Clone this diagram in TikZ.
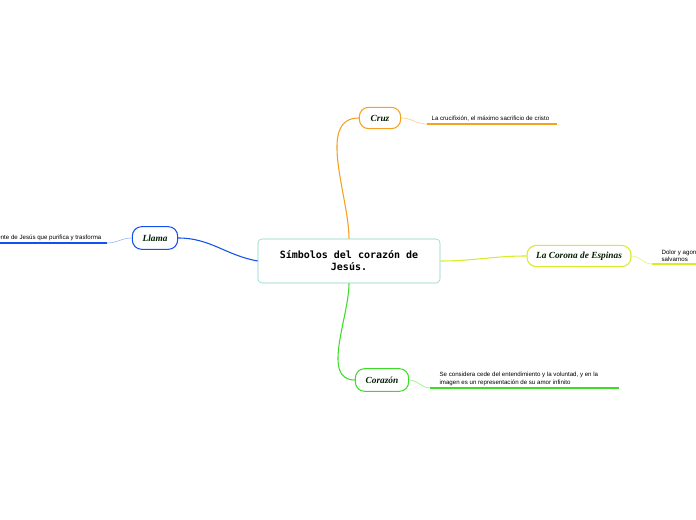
\documentclass[tikz,border=0pt]{standalone}
\usepackage{fontspec}
\setmainfont{Liberation Sans}
\newfontfamily\monof{DejaVu Sans Mono}
\newfontfamily\scr{Liberation Serif}
\definecolor{gr}{RGB}{60,220,40}
\definecolor{yl}{RGB}{215,235,40}
\definecolor{og}{RGB}{245,160,30}
\definecolor{bl}{RGB}{20,80,240}
\begin{document}
\begin{tikzpicture}[x=0.75pt,y=-0.75pt,
 topic/.style={draw=#1,line width=0.8pt,rounded corners=7pt,fill=white,font=\scr\itshape\bfseries\fontsize{7}{8}\selectfont,text=black!70!green!40!black},
 leaf/.style={font=\fontsize{4.6}{5.5}\selectfont,align=left,anchor=south west,inner sep=1pt}]
\useasboundingbox (0,0) rectangle (696,520);
\node[draw=cyan!50!green!50,rounded corners=3pt,minimum width=136.5pt,minimum height=33pt,font=\monof\bfseries\fontsize{7.5}{9}\selectfont,align=center] (c) at (349,261) {Símbolos del corazón de\\Jesús.};
\node[topic=og,minimum width=31pt,minimum height=16pt] (cruz) at (380,118) {Cruz};
\node[topic=yl,minimum width=78pt,minimum height=16pt] (cor) at (579,256) {La Corona de Espinas};
\node[topic=gr,minimum width=40pt,minimum height=17pt] (coz) at (382,380) {Corazón};
\node[topic=bl,minimum width=34pt,minimum height=17pt] (ll) at (155,238) {Llama};
\coordinate (a1) at (427,124); \coordinate (a2) at (557,124);
\draw[og,line width=1pt] (a1)--(a2);
\node[leaf] at (430,123) {La crucifixión, el máximo sacrificio de cristo};
\draw[og,line width=0.8pt] (c.north) to[out=90,in=180,looseness=0.9] (cruz.west);
\draw[og!50,line width=0.5pt] (cruz.east) to[out=0,in=180] (a1);
\coordinate (b1) at (652,264); \coordinate (b2) at (696,264);
\draw[yl,line width=1pt] (b1)--(b2);
\node[leaf] at (660,263) {Dolor y agonía de Jesús por\\salvarnos};
\draw[yl,line width=0.8pt] (c.east) to[out=0,in=180] (cor.west);
\draw[yl!60,line width=0.5pt] (cor.east) to[out=0,in=180] (b1);
\coordinate (d1) at (430,388); \coordinate (d2) at (619,388);
\draw[gr,line width=1pt] (d1)--(d2);
\node[leaf] at (438,387) {Se considera cede del entendimiento y la voluntad, y en la\\imagen es un representación de su amor infinito};
\draw[gr,line width=0.8pt] (c.south) to[out=-90,in=180,looseness=0.9] (coz.west);
\draw[gr!50,line width=0.5pt] (coz.east) to[out=0,in=180] (d1);
\coordinate (e1) at (107,243); \coordinate (e2) at (0,243);
\draw[bl,line width=1pt] (e1)--(e2);
\node[leaf,anchor=south east] at (103,242) {Es el amor ardiente de Jesús que purifica y trasforma};
\draw[bl,line width=0.8pt] (ll.east) to[out=0,in=170] (c.west);
\draw[bl!40,line width=0.5pt] (ll.west) to[out=180,in=0] (e1);
\end{tikzpicture}
\end{document}
